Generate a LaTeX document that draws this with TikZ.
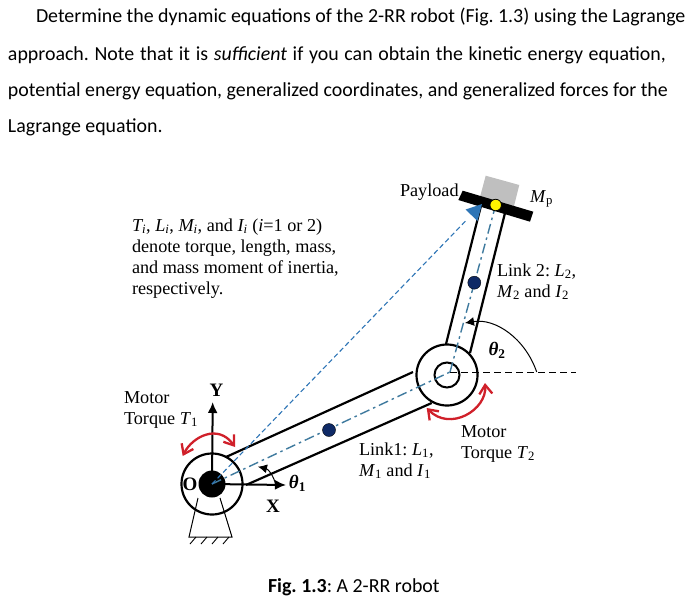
\documentclass[tikz,border=0pt]{standalone}
\usepackage{fontspec}
\setmainfont{Liberation Serif}
\newfontfamily\bodyfont{Carlito}
\usetikzlibrary{arrows.meta,calc}
\definecolor{linkblue}{HTML}{2E75B6}
\definecolor{dashblue}{HTML}{3F7A9E}
\definecolor{dotnavy}{HTML}{0F2A66}
\definecolor{torquered}{HTML}{D0202A}
\definecolor{loadgray}{HTML}{BFBFBF}
\newcommand{\ssub}[1]{\textsubscript{#1}}
\frenchspacing
\tikzset{
  body/.style={anchor=base west,inner sep=0pt,outer sep=0pt,font=\bodyfont\fontsize{19.9}{22}\selectfont},
  dia/.style={anchor=base west,inner sep=0pt,outer sep=0pt,font=\fontsize{18.2}{20}\selectfont},
  diab/.style={anchor=center,inner sep=0pt,outer sep=0pt,font=\bfseries\fontsize{19}{21}\selectfont},
  linkline/.style={line width=2.2pt,black},
  centerline/.style={dashblue,line width=1.4pt,dash pattern=on 10pt off 4pt on 2.5pt off 4pt},
  reachline/.style={linkblue,line width=1.1pt,dash pattern=on 5pt off 3pt},
  axisline/.style={line width=2pt,-{Latex[length=11pt,width=10pt]}},
  torque/.style={torquered,line width=2.3pt,{Straight Barb[length=9pt,width=13pt]}-{Straight Barb[length=9pt,width=13pt]}},
  anglearc/.style={line width=1pt,{Latex[length=9pt,width=9pt]}-},
  ring/.style={circle,draw,line width=2.2pt,minimum size=61pt,inner sep=0pt},
  hub/.style={circle,draw,line width=2pt,minimum size=25pt,inner sep=0pt},
  massdot/.style={circle,fill=dotnavy,draw=black,line width=0.4pt,minimum size=13pt,inner sep=0pt},
}
\begin{document}
\begin{tikzpicture}[x=1pt,y=-1pt]
\useasboundingbox (0,0) rectangle (690,602);
% top text
\node[body] (t1) at (36,23) {Determine the dynamic equations of the 2-RR robot (Fig. 1.3) using the Lagrange};
\node[body] (t2) at (8,60) {\spaceskip=5.7pt approach. Note that it is \textit{sufficient} if you can obtain the kinetic energy equation,};
\node[body] (t3) at (8,96) {potential energy equation, generalized coordinates, and generalized forces for the};
\node[body] (t4) at (8,132) {Lagrange equation.};
% note
\node[dia] (n1) at (132,231) {\textit{T\ssub{i}}, \textit{L\ssub{i}}, \textit{M\ssub{i}}, and \textit{I\ssub{i}} (\textit{i}=1 or 2)};
\node[dia] (n2) at (132,252) {denote torque, length, mass,};
\node[dia] (n3) at (132,273) {and mass moment of inertia,};
\node[dia] (n4) at (132,294) {respectively.};
% coordinates
\coordinate (O) at (212,484);
\coordinate (J) at (447,375);
\coordinate (Jc) at (450,372);
\coordinate (E) at (495.7,205);
\coordinate (Tip) at (482,204);
\coordinate (Yend) at (212.7,402);
\coordinate (Xend) at (286,485);
\coordinate (Dend) at (576,372);
% payload
\fill[loadgray] (485.7,175.7) -- (519.3,185) -- (514,206) -- (480,197) -- cycle;
% base
\coordinate (bl) at (189,537);
\coordinate (br) at (232,537);
\draw[line width=1pt] (198,498) -- (bl) -- (br) -- (220,498);
\draw[line width=0.9pt] (196,537) -- (190,544) (207,537) -- (201,544) (218,537) -- (212,544) (229,537) -- (223,544);
% links
\draw[linkline] (226,457) -- (413,372);
\draw[linkline] (246,485) -- (431.7,403);
\draw[linkline] (446,344) -- (481.7,203);
\draw[linkline] (470,353) -- (505,213);
% dashed horizontal
\draw[line width=1pt,dash pattern=on 7pt off 4pt] (Jc) -- (Dend);
% rings
\node[ring] (R1) at (O) {};
\node[ring] (R2) at (J) {};
\node[hub] (H2) at (J) {};
\node[circle,fill=black,minimum size=27pt,inner sep=0pt] (H1) at (O) {};
% axes
\draw[axisline] (O) -- (Yend);
\draw[axisline] (O) -- (Xend);
% center lines
\draw[centerline] (O) -- (Jc);
\draw[centerline] (Jc) -- (E);
% payload bar
\fill[black] (462.7,190.7) -- (533.3,211.7) -- (530,221.7) -- (458.3,200) -- cycle;
\draw[reachline] (O) -- ($(Tip)!0.06!(O)$);
\fill[linkblue] (Tip) -- (465.5,209.5) -- (477.5,221) -- cycle;
\node[circle,fill=yellow,draw=black,line width=0.8pt,minimum size=11.5pt,inner sep=0pt] (Ydot) at (E) {};
\node[massdot] (C1) at (329,430) {};
\node[massdot] (C2) at (474.3,282.7) {};
% torques
\draw[torque] (182.7,456) .. controls (192,437) and (218,423) .. (235,447);
\draw[torque] (485,383) .. controls (487,410) and (450,432) .. (426.7,408);
% angles
\draw[anglearc] (258,466.7) .. controls (268,469) and (274,476) .. (275.7,485);
\draw[anglearc] (465,323) .. controls (495,318) and (525,338) .. (536.7,372);
% labels
\node[diab] (LO) at (190,484) {O};
\node[diab] (LY) at (216.5,390.5) {Y};
\node[diab] (LX) at (273,506) {X};
\node[diab] (Lt1) at (297.5,483) {\textit{θ}\ssub{1}};
\node[diab] (Lt2) at (497,350) {\textit{θ}\ssub{2}};
\node[dia] (P) at (400,196) {Payload};
\node[dia] (Mp) at (530,202) {\textit{M}\ssub{p}};
\node[dia] (L2a) at (497,276) {Link 2: \textit{L}\ssub{2},};
\node[dia] (L2b) at (497,297) {\textit{M}\ssub{2} and \textit{I}\ssub{2}};
\node[dia] (L1a) at (359,455) {Link1: \textit{L}\ssub{1},};
\node[dia] (L1b) at (359,476) {\textit{M}\ssub{1} and \textit{I}\ssub{1}};
\node[dia] (M2a) at (461,437) {Motor};
\node[dia] (M2b) at (461,458) {Torque \textit{T}\ssub{2}};
\node[dia] (M1a) at (124,403) {Motor};
\node[dia] (M1b) at (124,424) {Torque \textit{T}\ssub{1}};
% caption
\node[body] (cap) at (268,592) {\textbf{Fig. 1.3}: A 2-RR robot};
\end{tikzpicture}
\end{document}
